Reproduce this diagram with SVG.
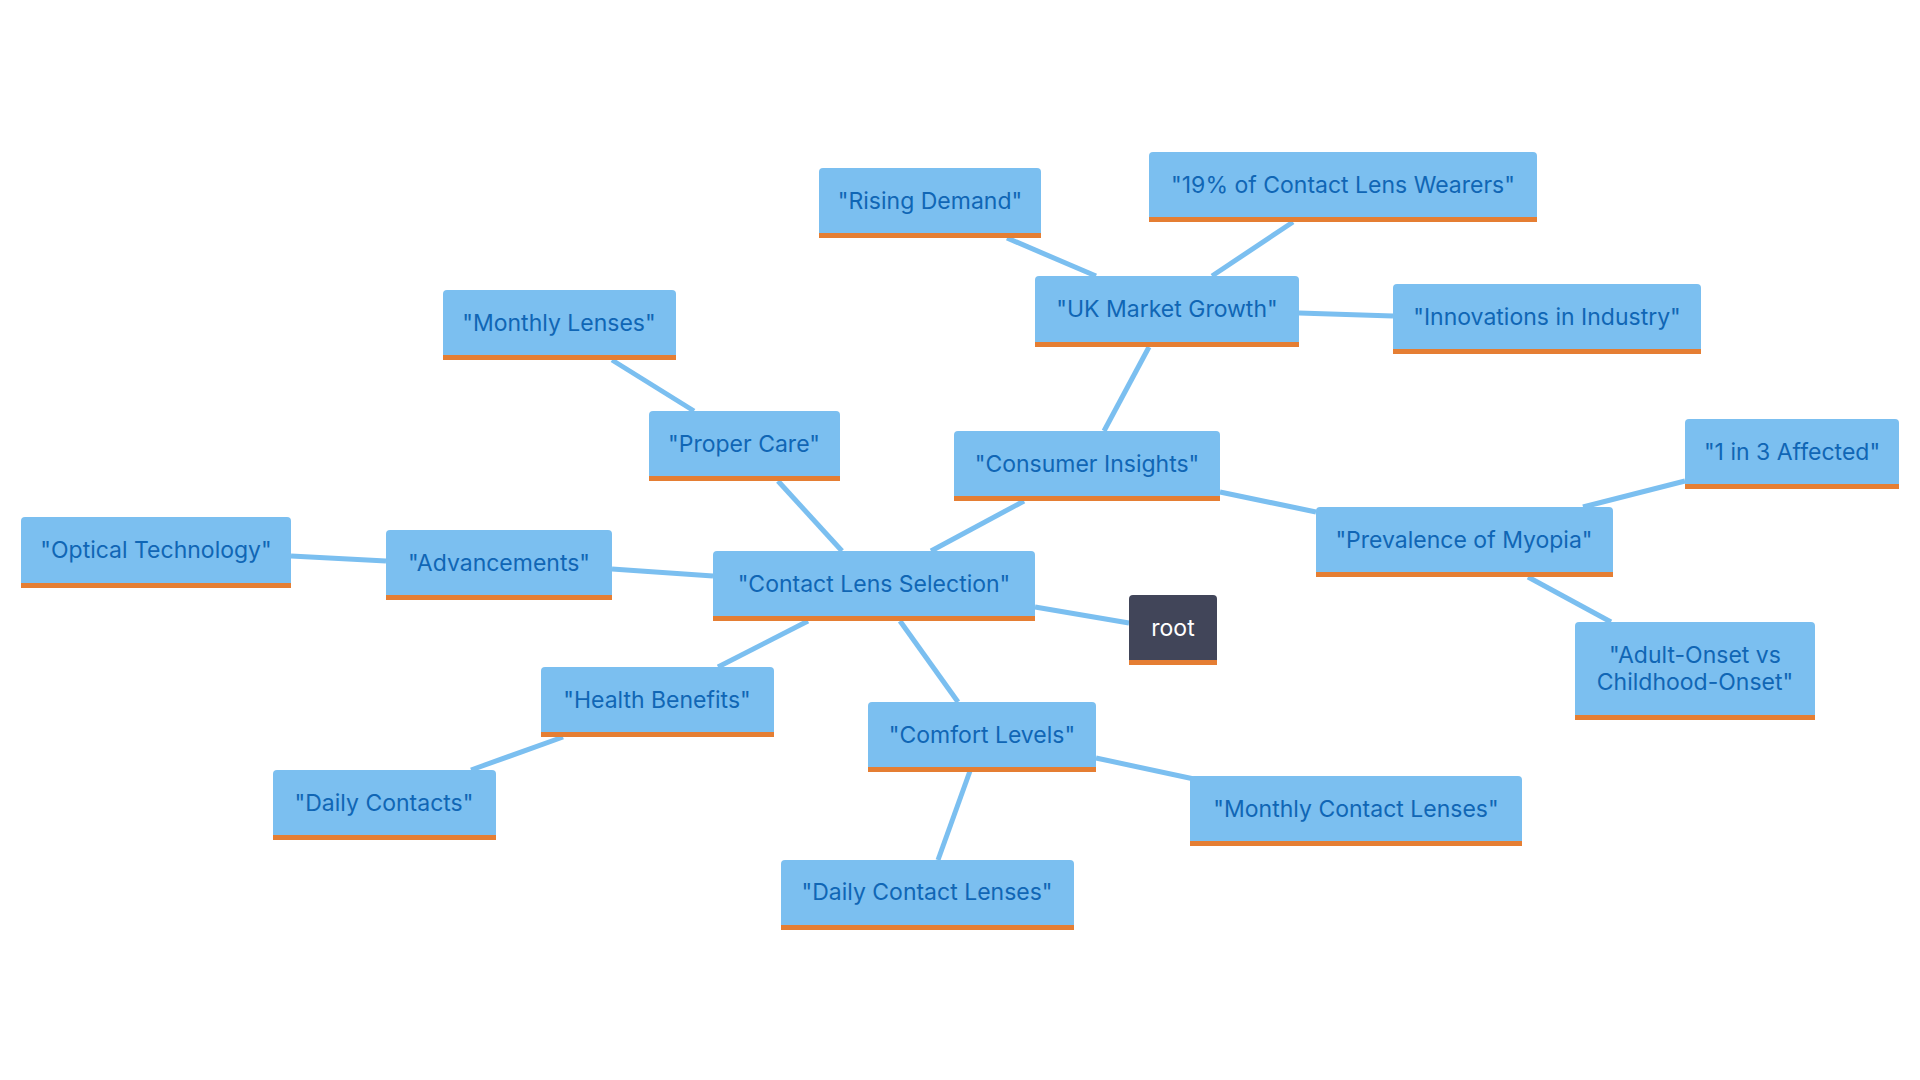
<svg xmlns="http://www.w3.org/2000/svg" width="1920" height="1080" viewBox="0 0 1920 1080">
<style>
.n rect.b{fill:#7bbff0}
.n rect.o{fill:#e57e33}
.n text{font-family:Inter,"Open Sans",sans-serif;font-size:23px;fill:#1066b5;text-anchor:middle;dominant-baseline:central}
.r rect.b{fill:#414559}
.r text{fill:#ffffff}
#edges line{stroke:#7bbff0;stroke-width:5}
</style>
<rect width="1920" height="1080" fill="#ffffff"/>
<g id="edges">
<line x1="1035" y1="607" x2="1129" y2="623"/>
<line x1="931" y1="551" x2="1024" y2="501"/>
<line x1="1104" y1="431" x2="1149" y2="347"/>
<line x1="1096" y1="276" x2="1007" y2="238"/>
<line x1="1212" y1="276" x2="1293" y2="222"/>
<line x1="1299" y1="313" x2="1393" y2="316"/>
<line x1="1220" y1="492" x2="1316" y2="512"/>
<line x1="1583" y1="507" x2="1685" y2="481"/>
<line x1="1528" y1="577" x2="1611" y2="622"/>
<line x1="842" y1="551" x2="778" y2="481"/>
<line x1="694" y1="411" x2="612" y2="360"/>
<line x1="713" y1="576" x2="612" y2="569"/>
<line x1="386" y1="561" x2="291" y2="556"/>
<line x1="808" y1="621" x2="718" y2="667"/>
<line x1="563" y1="737" x2="471" y2="770"/>
<line x1="900" y1="621" x2="958" y2="702"/>
<line x1="1096" y1="758" x2="1194" y2="779"/>
<line x1="970" y1="771" x2="938" y2="860"/>
</g>
<g id="cls" class="n"><rect class="b" x="713" y="551" width="322" height="70" rx="4"/><rect class="o" x="713" y="616" width="322" height="5"/><text x="874" y="584">"Contact Lens Selection"</text></g>
<g id="root" class="n r"><rect class="b" x="1129" y="595" width="88" height="70" rx="4"/><rect class="o" x="1129" y="660" width="88" height="5"/><text x="1173" y="628">root</text></g>
<g id="consumer" class="n"><rect class="b" x="954" y="431" width="266" height="70" rx="4"/><rect class="o" x="954" y="496" width="266" height="5"/><text x="1087" y="464">"Consumer Insights"</text></g>
<g id="uk" class="n"><rect class="b" x="1035" y="276" width="264" height="71" rx="4"/><rect class="o" x="1035" y="342" width="264" height="5"/><text x="1167" y="309">"UK Market Growth"</text></g>
<g id="rising" class="n"><rect class="b" x="819" y="168" width="222" height="70" rx="4"/><rect class="o" x="819" y="233" width="222" height="5"/><text x="930" y="201">"Rising Demand"</text></g>
<g id="pct" class="n"><rect class="b" x="1149" y="152" width="388" height="70" rx="4"/><rect class="o" x="1149" y="217" width="388" height="5"/><text x="1343" y="185">"19% of Contact Lens Wearers"</text></g>
<g id="innov" class="n"><rect class="b" x="1393" y="284" width="308" height="70" rx="4"/><rect class="o" x="1393" y="349" width="308" height="5"/><text x="1547" y="317">"Innovations in Industry"</text></g>
<g id="prev" class="n"><rect class="b" x="1316" y="507" width="297" height="70" rx="4"/><rect class="o" x="1316" y="572" width="297" height="5"/><text x="1464" y="540">"Prevalence of Myopia"</text></g>
<g id="one3" class="n"><rect class="b" x="1685" y="419" width="214" height="70" rx="4"/><rect class="o" x="1685" y="484" width="214" height="5"/><text x="1792" y="452">"1 in 3 Affected"</text></g>
<g id="adult" class="n"><rect class="b" x="1575" y="622" width="240" height="98" rx="4"/><rect class="o" x="1575" y="715" width="240" height="5"/><text x="1695" y="655">"Adult-Onset vs</text><text x="1695" y="682">Childhood-Onset"</text></g>
<g id="proper" class="n"><rect class="b" x="649" y="411" width="191" height="70" rx="4"/><rect class="o" x="649" y="476" width="191" height="5"/><text x="744" y="444">"Proper Care"</text></g>
<g id="monthly" class="n"><rect class="b" x="443" y="290" width="233" height="70" rx="4"/><rect class="o" x="443" y="355" width="233" height="5"/><text x="559" y="323">"Monthly Lenses"</text></g>
<g id="adv" class="n"><rect class="b" x="386" y="530" width="226" height="70" rx="4"/><rect class="o" x="386" y="595" width="226" height="5"/><text x="499" y="563">"Advancements"</text></g>
<g id="optical" class="n"><rect class="b" x="21" y="517" width="270" height="71" rx="4"/><rect class="o" x="21" y="583" width="270" height="5"/><text x="156" y="550">"Optical Technology"</text></g>
<g id="health" class="n"><rect class="b" x="541" y="667" width="233" height="70" rx="4"/><rect class="o" x="541" y="732" width="233" height="5"/><text x="657" y="700">"Health Benefits"</text></g>
<g id="dailyc" class="n"><rect class="b" x="273" y="770" width="223" height="70" rx="4"/><rect class="o" x="273" y="835" width="223" height="5"/><text x="384" y="803">"Daily Contacts"</text></g>
<g id="comfort" class="n"><rect class="b" x="868" y="702" width="228" height="70" rx="4"/><rect class="o" x="868" y="767" width="228" height="5"/><text x="982" y="735">"Comfort Levels"</text></g>
<g id="mcl" class="n"><rect class="b" x="1190" y="776" width="332" height="70" rx="4"/><rect class="o" x="1190" y="841" width="332" height="5"/><text x="1356" y="809">"Monthly Contact Lenses"</text></g>
<g id="dcl" class="n"><rect class="b" x="781" y="860" width="293" height="70" rx="4"/><rect class="o" x="781" y="925" width="293" height="5"/><text x="927" y="892">"Daily Contact Lenses"</text></g>
</svg>
